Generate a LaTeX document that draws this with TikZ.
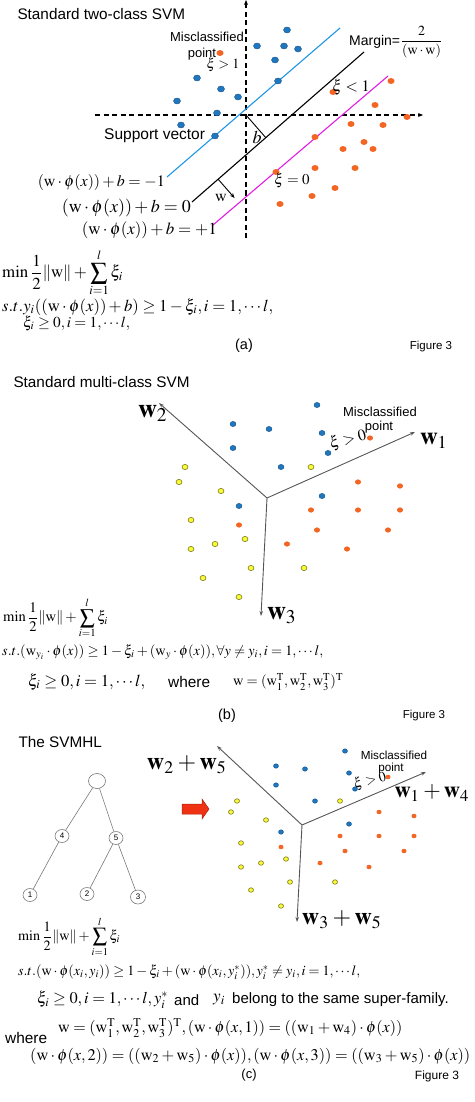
\documentclass[tikz,border=0pt]{standalone}
\usepackage{mathptmx}
\usepackage[no-math]{fontspec}
\setmainfont{Liberation Sans}
\usepackage{graphicx}
\usetikzlibrary{arrows.meta,calc,shapes.geometric}
\definecolor{dblue}{RGB}{31,119,190}
\definecolor{dblueE}{RGB}{20,80,140}
\definecolor{dorange}{RGB}{242,101,34}
\definecolor{dyellow}{RGB}{250,250,60}
\definecolor{dyellowE}{RGB}{120,120,20}
\definecolor{lblue}{RGB}{30,150,230}
\definecolor{mag}{RGB}{225,30,225}
\definecolor{rayg}{RGB}{85,85,85}
\definecolor{treeg}{RGB}{120,120,120}
\definecolor{redarrow}{RGB}{240,50,20}
\definecolor{redarrowE}{RGB}{170,30,10}
\newcommand{\fs}[1]{\fontsize{#1}{#1}\selectfont}
\newcommand{\fitto}[2]{\resizebox{#1pt}{!}{#2}}
\newcommand{\vw}{\mathrm{w}}
\tikzset{
  dotA/.style={ellipse,inner sep=0pt,minimum width=7pt,minimum height=6pt},
  dotB/.style={ellipse,inner sep=0pt,minimum width=6pt,minimum height=5.2pt},
  dotC/.style={ellipse,inner sep=0pt,minimum width=5pt,minimum height=4.5pt},
  bluedot/.style={fill=dblue,draw=dblueE,line width=0.4pt},
  orangedot/.style={fill=dorange},
  yellowdot/.style={fill=dyellow,draw=dyellowE,line width=0.6pt},
  axis/.style={dashed,line width=1.1pt,dash pattern=on 5pt off 3.5pt,-{Stealth[length=5pt,width=4pt]}},
  sline/.style={line width=1.1pt},
  ray/.style={rayg,line width=0.9pt,-{Stealth[length=5pt,width=3.5pt]}},
  tnode/.style={ellipse,draw=treeg,line width=0.6pt,inner sep=0pt,minimum width=14pt,minimum height=13pt,font=\fs{8}},
  tedge/.style={treeg,line width=0.6pt},
  head/.style={anchor=west,font=\fs{15.3}},
  plain/.style={inner sep=0pt},
}
\begin{document}
\begin{tikzpicture}[x=1pt,y=-1pt]
\useasboundingbox (0,0) rectangle (474,1102);
% ---------------- (a) ----------------
\node[head] (ta) at (14,14) {Standard two-class SVM};
\coordinate (O) at (246,115);
\coordinate (vb) at (246,238); \coordinate (vt) at (246,0);
\coordinate (hl) at (95,115); \coordinate (hr) at (423,115);
\draw[axis] (vb) -- (vt);
\draw[axis] (hl) -- (hr);
\coordinate (L1) at (167,177); \coordinate (L2) at (340,28);
\coordinate (K1) at (192,202); \coordinate (K2) at (364,52);
\coordinate (M1) at (213,225); \coordinate (M2) at (388,76);
\draw[sline,lblue] (L1) -- (L2);
\draw[sline,black] (K1) -- (K2);
\draw[sline,mag] (M1) -- (M2);
\coordinate (F) at ($(K1)!(O)!(K2)$);
\draw[line width=0.9pt] (O) -- (F);
\coordinate (W0) at ($(K1)!0.152!(K2)$);
\coordinate (W1) at ($(W0)!25pt!-90:(K2)$);
\draw[line width=0.9pt,-{Stealth[length=5pt,width=4pt]}] (W0) -- (W1);
\node[plain] (lb) at (257,137) {\fs{18}$b$};
\node[plain] (lw) at (221,198) {\fs{16}$\vw$};
\foreach \x/\y [count=\i] in {287/30,257/46,284/46,298/49,275/60,197/78,278/81,221/89,238/97,177/101,217/113,181/125,215/136}
  \node[dotA,bluedot] (ab\i) at (\x,\y) {};
\foreach \x/\y [count=\i] in {220/53,391/81,333/92,375/105,407/117,351/124,383/125,315/137,364/142,343/149,373/149,315/168,355/168,276/172,335/188,312/196,280/204}
  \node[dotA,orangedot] (ao\i) at (\x,\y) {};
\node[plain,font=\fs{13}] (amis) at (207,37) {Misclassified};
\node[plain,font=\fs{13}] (apt) at (202,54) {point};
\node[plain] (axg) at (223,65) {\fs{14}$\xi>1$};
\node[plain] (axl) at (351,87) {\fs{16}$\xi<1$};
\node[plain] (axz) at (292,180) {\fs{15}$\xi=0$};
\node[plain,anchor=west,font=\fs{15.5}] (sv) at (104,136) {Support vector};
\node[plain,anchor=west,font=\fs{14}] (mg) at (349,42) {Margin=};
\node[plain,anchor=west] (mf) at (mg.east) {\fitto{42}{$\displaystyle\frac{2}{(\vw\cdot\vw)}$}};
\node[plain,anchor=east] (e1) at (165,183) {\fitto{127}{$(\vw\cdot\phi(x))+b=-1$}};
\node[plain,anchor=east] (e2) at (191,208) {\fitto{129}{$(\vw\cdot\phi(x))+b=0$}};
\node[plain,anchor=east] (e3) at (217,230) {\fitto{135}{$(\vw\cdot\phi(x))+b=+1$}};
\node[plain,anchor=west] (amin) at (2,273) {\fitto{121}{$\displaystyle\min\frac{1}{2}\|\vw\|+\sum_{i=1}^{l}\xi_i$}};
\node[plain,anchor=west] (ast) at (2,307) {\fitto{271}{$s.t.y_i((\vw\cdot\phi(x))+b)\geq 1-\xi_i, i=1,\cdots l,$}};
\node[plain,anchor=west] (axi) at (23,323) {\fitto{107}{$\xi_i\geq 0, i=1,\cdots l,$}};
\node[plain,font=\fs{14.5}] (capa) at (244,346) {(a)};
\node[plain,font=\fs{11.5}] (fga) at (431,347) {Figure 3};
% ---------------- (b) ----------------
\node[head] (tb) at (10,382) {Standard multi-class SVM};
\coordinate (C2) at (267,498);
\coordinate (b1) at (415,432); \coordinate (b2) at (159,403); \coordinate (b3) at (261,616);
\draw[ray] (C2) -- (b1);
\draw[ray] (C2) -- (b2);
\draw[ray] (C2) -- (b3);
\foreach \x/\y [count=\i] in {317/405,233/424,269/429,322/433,233/448,328/453,281/467,322/496,239/506}
  \node[dotB,bluedot] (bb\i) at (\x,\y) {};
\foreach \x/\y [count=\i] in {185/467,179/482,221/491,311/467,191/520,245/539,215/544,191/549,251/568,304/568,203/578,239/597}
  \node[dotB,yellowdot] (by\i) at (\x,\y) {};
\foreach \x/\y [count=\i] in {370/438,358/482,400/486,311/510,358/510,400/510,239/525,317/530,388/530,287/544,347/549}
  \node[dotB,orangedot] (bo\i) at (\x,\y) {};
\node[plain,font=\fs{13}] (bmis) at (380,412) {Misclassified};
\node[plain,font=\fs{13}] (bpt) at (379,427) {point};
\node[plain,rotate=15] (bxi) at (348,440) {\fs{16}$\xi>0$};
\node[plain] (lw2) at (153,413) {\fitto{30}{$\mathbf{w}_2$}};
\node[plain] (lw1) at (434,441) {\fitto{28}{$\mathbf{w}_1$}};
\node[plain] (lw3) at (282,616) {\fitto{30}{$\mathbf{w}_3$}};
\node[plain,anchor=west] (bmin) at (3,618) {\fitto{105}{$\displaystyle\min\frac{1}{2}\|\vw\|+\sum_{i=1}^{l}\xi_i$}};
\node[plain,anchor=west] (bst) at (2,652) {\fitto{321}{$s.t.(\vw_{y_i}\cdot\phi(x))\geq 1-\xi_i+(\vw_{y}\cdot\phi(x)),\forall y\neq y_i, i=1,\cdots l,$}};
\node[plain,anchor=west] (bxi2) at (28,682) {\fitto{117}{$\xi_i\geq 0, i=1,\cdots l,$}};
\node[plain,anchor=west,font=\fs{15.4}] (bwh) at (168,682) {where};
\node[plain,anchor=west] (bw) at (233,682) {\fitto{110}{$\vw=(\vw_1^{\mathrm{T}},\vw_2^{\mathrm{T}},\vw_3^{\mathrm{T}})^{\mathrm{T}}$}};
\node[plain,font=\fs{14.5}] (capb) at (227,716) {(b)};
\node[plain,font=\fs{11.5}] (fgb) at (424,716) {Figure 3};
% ---------------- (c) ----------------
\node[head] (tc) at (15,742) {The SVMHL};
\node[tnode,minimum width=17pt,minimum height=15pt] (r) at (97,781) {};
\node[tnode] (n4) at (62,836) {4};
\node[tnode] (n5) at (116,838) {5};
\node[tnode] (n1) at (30,895) {1};
\node[tnode] (n2) at (87,894) {2};
\node[tnode,minimum width=15pt,minimum height=14pt] (n3) at (138,897) {3};
\draw[tedge] (r) -- (n4);
\draw[tedge] (r) -- (n5);
\draw[tedge] (n4) -- (n1);
\draw[tedge] (n5) -- (n2);
\draw[tedge] (n5) -- (n3);
\draw[fill=redarrow,draw=redarrowE,line width=0.5pt] (182,804) -- (202,804) -- (202,799) -- (209,809) -- (202,819) -- (202,814) -- (182,814) -- cycle;
\coordinate (C3) at (302,825);
\coordinate (c1) at (426,772); \coordinate (c2) at (217,746); \coordinate (c3) at (297,922);
\draw[ray] (C3) -- (c1);
\draw[ray] (C3) -- (c2);
\draw[ray] (C3) -- (c3);
\foreach \x/\y [count=\i] in {345/751,276/766,305/769,349/773,276/785,355/789,315/801,349/824,281/832}
  \node[dotC,bluedot] (cb\i) at (\x,\y) {};
\foreach \x/\y [count=\i] in {237/801,231/812,266/820,340/801,241/843,286/859,261/863,241/867,290/882,335/882,251/890,281/906}
  \node[dotC,yellowdot] (cy\i) at (\x,\y) {};
\foreach \x/\y [count=\i] in {388/777,379/812,414/816,340/836,379/836,414/836,281/847,345/851,404/851,320/863,369/867}
  \node[dotC,orangedot] (co\i) at (\x,\y) {};
\node[plain,font=\fs{11.7}] (cmis) at (394,755) {Misclassified};
\node[plain,font=\fs{11.7}] (cpt) at (391,768) {point};
\node[plain,rotate=15] (cxi) at (370,781) {\fs{14}$\xi>0$};
\node[plain] (lw25) at (187,765) {\fitto{80}{$\mathbf{w}_2+\mathbf{w}_5$}};
\node[plain] (lw14) at (432,793) {\fitto{75}{$\mathbf{w}_1+\mathbf{w}_4$}};
\node[plain] (lw35) at (342,920) {\fitto{80}{$\mathbf{w}_3+\mathbf{w}_5$}};
\node[plain,anchor=west] (cmin) at (18,937) {\fitto{102}{$\displaystyle\min\frac{1}{2}\|\vw\|+\sum_{i=1}^{l}\xi_i$}};
\node[plain,anchor=west] (cst) at (18,972) {\fitto{342}{$s.t.(\vw\cdot\phi(x_i,y_i))\geq 1-\xi_i+(\vw\cdot\phi(x_i,y_i^*)), y_i^*\neq y_i, i=1,\cdots l,$}};
\node[plain,anchor=west] (cxi2) at (37,1000) {\fitto{131}{$\xi_i\geq 0, i=1,\cdots l, y_i^*$}};
\node[plain,anchor=west,font=\fs{15}] (cand) at (174,1000) {and};
\node[plain,anchor=west] (cyi) at (213,1000) {\fs{17}$y_i$};
\node[plain,anchor=west,font=\fs{15}] (cbel) at (232,1000) {belong to the same super-family.};
\node[plain,anchor=west,font=\fs{15.4}] (cwh) at (5,1038) {where};
\node[plain,anchor=west] (cw1) at (58,1028) {\fitto{344}{$\vw=(\vw_1^{\mathrm{T}},\vw_2^{\mathrm{T}},\vw_3^{\mathrm{T}})^{\mathrm{T}},(\vw\cdot\phi(x,1))=((\vw_1+\vw_4)\cdot\phi(x))$}};
\node[plain,anchor=west] (cw2) at (30,1056) {\fitto{440}{$(\vw\cdot\phi(x,2))=((\vw_2+\vw_5)\cdot\phi(x)),(\vw\cdot\phi(x,3))=((\vw_3+\vw_5)\cdot\phi(x))$}};
\node[plain,font=\fs{13}] (capc) at (249,1075) {(c)};
\node[plain,font=\fs{12}] (fgc) at (437,1076) {Figure 3};
\end{tikzpicture}
\end{document}
